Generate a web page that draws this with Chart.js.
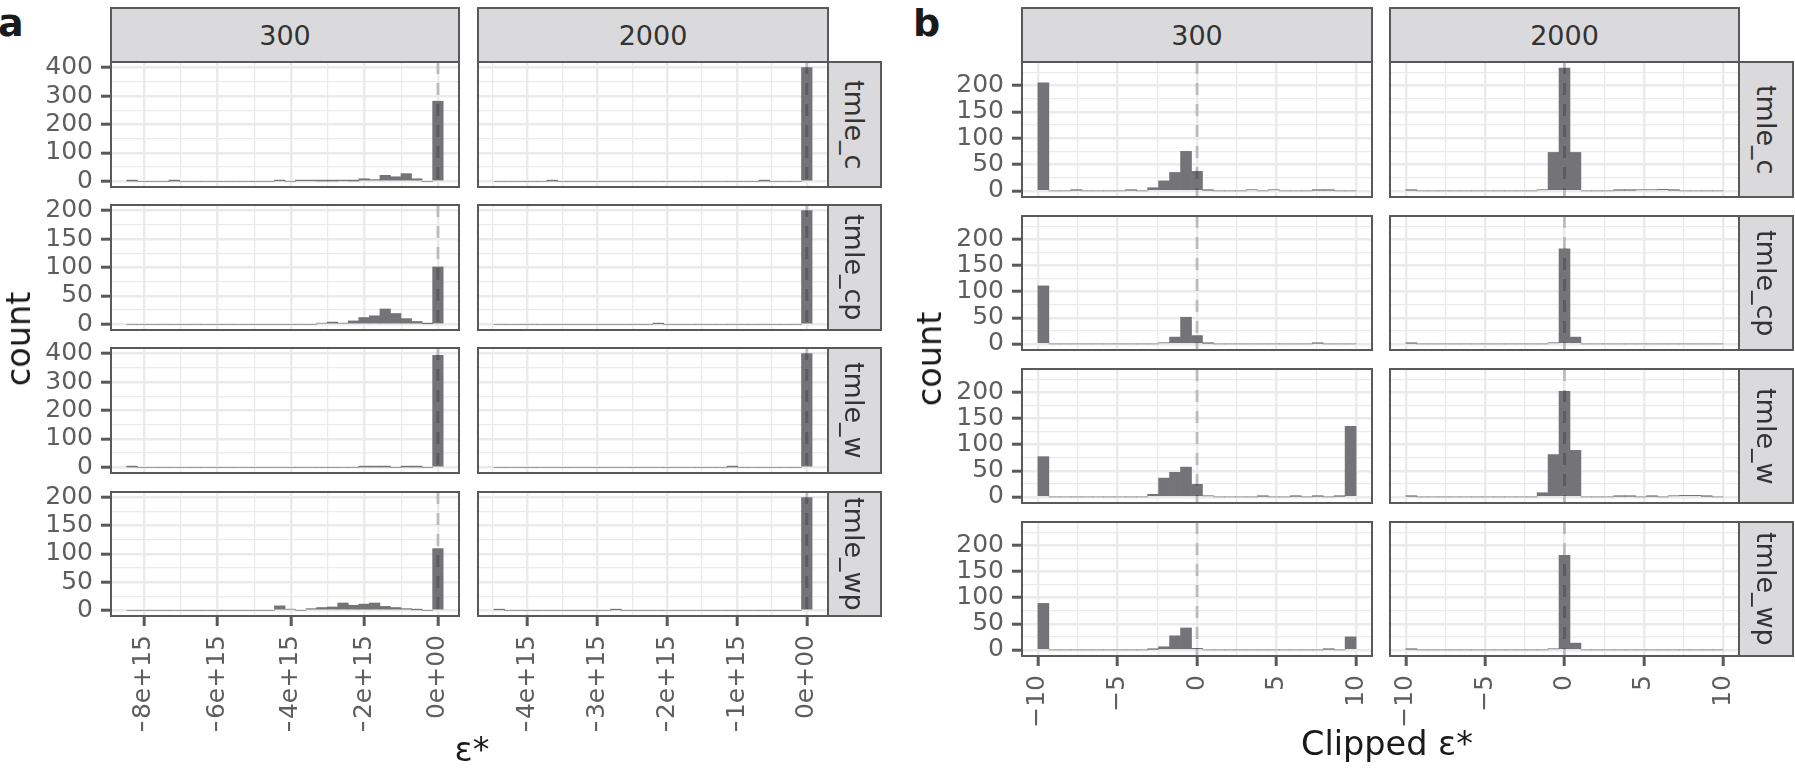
<!DOCTYPE html>
<html>
<head>
<meta charset="utf-8">
<script src="https://cdn.jsdelivr.net/npm/chart.js@4.4.1/dist/chart.umd.min.js"></script>
<style>
  html, body { margin: 0; padding: 0; background: #fff; }
  body { width: 1795px; height: 774px; position: relative; overflow: hidden; font-family: "DejaVu Sans", sans-serif; }
  canvas { position: absolute; }
  .strip { position: absolute; box-sizing: border-box; background: #dadadc; border: 2px solid #595959;
           color: #333; font-size: 27px; display: flex; align-items: center; justify-content: center; }
  .strip.v span { writing-mode: vertical-rl; }
  .lbl { position: absolute; white-space: nowrap; line-height: 34px; color: #1a1a1a; }
  .tag { position: absolute; font: bold 38px "DejaVu Sans", sans-serif; line-height: 38px; color: #1a1a1a; }
</style>
</head>
<body>
<script>
// facets
const sampleSizes = ['300', '2000'];
const estimators = ['tmle_c', 'tmle_cp', 'tmle_w', 'tmle_wp'];

// panel a: raw epsilon*, x in units of 1e15, 30 bins per column, last bin centred on 0
const rawBinWidth300 = 0.287;
const rawBinWidth2000 = 0.152;
const rawC300  = [1,0,0,0,1,0,0,0,0,0, 0,0,0,0,2,0,2,2,1,1, 2,1,9,6,21,16,27,9,0,282];
const rawCp300 = [0,0,0,0,0,0,0,0,0,0, 0,0,0,0,0,0,0,0,2,4, 2,6,12,15,27,19,10,5,1,101];
const rawW300  = [1,0,0,0,0,0,0,0,0,0, 0,0,0,0,0,0,0,0,0,0, 0,0,1,1,1,0,1,1,0,394];
const rawWp300 = [0,0,0,0,0,0,0,0,0,0, 0,0,0,0,8,2,0,3,5,6, 13,9,11,13,7,5,3,1,0,109];
const rawC2000  = [0,0,0,0,0,1,0,0,0,0, 0,0,0,0,0,0,0,0,0,0, 0,0,0,0,0,1,0,0,0,400];
const rawCp2000 = [0,0,0,0,0,0,0,0,0,0, 0,0,0,0,0,1,0,0,0,0, 0,0,0,0,0,0,0,0,0,200];
const rawW2000  = [0,0,0,0,0,0,0,0,0,0, 0,0,0,0,0,0,0,0,0,0, 0,0,1,0,0,0,0,0,0,400];
const rawWp2000 = [1,0,0,0,0,0,0,0,0,0, 0,1,0,0,0,0,0,0,0,0, 0,0,0,0,0,0,0,0,0,199];
const rawTicks300 = [-8, -6, -4, -2, 0];
const rawTickLabels300 = ['\u22128e+15', '\u22126e+15', '\u22124e+15', '\u22122e+15', '0e+00'];
const rawTicks2000 = [-4, -3, -2, -1, 0];
const rawTickLabels2000 = ['\u22124e+15', '\u22123e+15', '\u22122e+15', '\u22121e+15', '0e+00'];

// panel b: clipped epsilon*, 29 bins from -10 to 10
const clipFrom = -10, clipTo = 10;
const clipC300  = [205,0,0,1,0,0,0,0,1,0, 6,19,35,75,37,1,0,0,0,2, 0,2,0,0,0,1,1,0,0];
const clipCp300 = [111,0,0,0,0,0,0,0,0,0, 0,2,13,51,16,1,0,0,0,0, 0,0,0,0,0,1,0,0,0];
const clipW300  = [77,0,0,0,0,0,0,0,0,0, 5,36,47,57,24,2,0,0,0,0, 1,0,0,1,0,1,0,1,135];
const clipWp300 = [89,0,0,0,0,0,0,0,0,0, 1,6,27,42,3,0,0,0,0,0, 0,0,0,0,0,0,1,0,25];
const clipC2000  = [1,0,0,0,0,0,0,0,0,0, 0,0,2,73,233,73,0,0,0,1, 1,2,2,3,1,0,0,0,0];
const clipCp2000 = [1,0,0,0,0,0,0,0,0,0, 0,0,0,2,182,13,0,0,0,0, 0,0,0,0,0,0,0,0,0];
const clipW2000  = [1,0,0,0,0,0,0,0,0,0, 0,0,8,81,202,89,0,0,0,1, 1,0,1,0,2,3,3,1,0];
const clipWp2000 = [1,0,0,0,0,0,0,0,0,0, 0,0,0,2,181,13,0,0,0,0, 0,0,0,0,0,0,0,0,0];
const clipTicks = [-10, -5, 0, 5, 10];
const clipTickLabels = ['\u221210', '\u22125', '0', '5', '10'];

const countTicks400 = [0, 100, 200, 300, 400];
const countTicks200 = [0, 50, 100, 150, 200];
const refValue = 0;

// look
const BAR = '#747478', GRID = '#ebebeb', FRAME = '#595959', TXT = '#5e5e5e';
const FONT = '"DejaVu Sans", sans-serif';
const TICK_SIZE = 25;

// layout (page pixels)
const aCols = [[111, 459], [478, 828]];
const aRows = [[62, 187], [205, 330], [348, 473], [492, 616]];
const bCols = [[1022, 1372], [1390, 1739]];
const bRows = [[62, 197], [216, 350], [369, 503], [522, 656]];

function expand(lo, hi) { const d = (hi - lo) * 0.05; return [lo - d, hi + d]; }

function withMinor(major, lo, hi) {
  const half = (major[1] - major[0]) / 2, out = [];
  for (let j = -2; j <= 2 * (major.length - 1) + 2; j++) {
    const v = major[0] + j * half;
    if (v >= lo - 1e-9 && v <= hi + 1e-9) out.push(v);
  }
  return out;
}
const near = (list, v) => list.findIndex(m => Math.abs(m - v) < 1e-9);

const frame = {
  id: 'frame',
  afterDatasetsDraw(chart) {
    const { ctx, chartArea: a, scales } = chart;
    const px = scales.x.getPixelForValue(refValue);
    ctx.save();
    ctx.beginPath(); ctx.rect(a.left, a.top, a.right - a.left, a.bottom - a.top); ctx.clip();
    ctx.strokeStyle = 'rgba(0,0,0,0.2)'; ctx.lineWidth = 3; ctx.setLineDash([12, 9]);
    ctx.beginPath(); ctx.moveTo(px, a.top); ctx.lineTo(px, a.bottom); ctx.stroke();
    ctx.restore();
  },
  afterDraw(chart) {
    const { ctx, chartArea: a } = chart;
    ctx.save();
    ctx.strokeStyle = FRAME; ctx.lineWidth = 2;
    ctx.strokeRect(a.left, a.top, a.right - a.left, a.bottom - a.top);
    ctx.restore();
  }
};

function panel(o) {
  const padTop = 16, padRight = 2;
  const axW = o.yLabels ? o.axisW : 2;
  const axH = o.xLabels ? 115 : 16;
  const w = o.x1 - o.x0, h = o.y1 - o.y0;
  const cv = document.createElement('canvas');
  cv.width = axW + w + padRight;
  cv.height = padTop + h + axH;
  cv.style.left = (o.x0 - axW) + 'px';
  cv.style.top = (o.y0 - padTop) + 'px';
  document.body.appendChild(cv);

  const xt = withMinor(o.xMajor, o.xr[0], o.xr[1]);
  const yt = withMinor(o.yMajor, o.yr[0], o.yr[1]);
  const noPad = s => { s.paddingLeft = 0; s.paddingRight = 0; s.paddingTop = 0; s.paddingBottom = 0; };
  const gridW = list => c => near(list, c.tick.value) >= 0 ? 2.4 : 1.3;
  const tickC = list => c => near(list, c.tick.value) >= 0 ? FRAME : 'rgba(0,0,0,0)';

  new Chart(cv, {
    type: 'bar',
    data: {
      datasets: [{
        data: o.centers.map((c, i) => ({ x: c, y: o.counts[i] })),
        backgroundColor: BAR, borderWidth: 0,
        barPercentage: 1, categoryPercentage: 1, grouped: false
      }]
    },
    options: {
      responsive: false, animation: false, events: [],
      layout: { padding: { top: padTop, right: padRight, left: 0, bottom: 0 } },
      plugins: { legend: { display: false }, tooltip: { enabled: false } },
      scales: {
        x: {
          type: 'linear', min: o.xr[0], max: o.xr[1], offset: false, bounds: 'data',
          border: { display: false },
          grid: { offset: false, color: GRID, lineWidth: gridW(o.xMajor), drawTicks: !!o.xLabels,
                  tickLength: 10, tickWidth: 3, tickColor: tickC(o.xMajor) },
          ticks: {
            display: !!o.xLabels, autoSkip: false, minRotation: 90, maxRotation: 90, padding: 9,
            color: TXT, font: { family: FONT, size: TICK_SIZE },
            callback: v => { const k = near(o.xMajor, v); return k >= 0 && o.xLabels ? o.xLabels[k] : ''; }
          },
          afterBuildTicks: s => { s.ticks = xt.map(v => ({ value: v })); },
          afterFit: s => { s.height = axH; noPad(s); }
        },
        y: {
          type: 'linear', min: o.yr[0], max: o.yr[1], bounds: 'data',
          border: { display: false },
          grid: { color: GRID, lineWidth: gridW(o.yMajor), drawTicks: !!o.yLabels,
                  tickLength: 10, tickWidth: 3, tickColor: tickC(o.yMajor) },
          ticks: {
            display: !!o.yLabels, autoSkip: false, padding: 8,
            color: TXT, font: { family: FONT, size: TICK_SIZE },
            callback: v => { const k = near(o.yMajor, v); return k >= 0 ? String(o.yMajor[k]) : ''; }
          },
          afterBuildTicks: s => { s.ticks = yt.map(v => ({ value: v })); },
          afterFit: s => { s.width = axW; noPad(s); }
        }
      }
    },
    plugins: [frame]
  });
}

function div(cls, html, css) {
  const d = document.createElement('div');
  d.className = cls; d.innerHTML = html;
  Object.assign(d.style, css);
  document.body.appendChild(d);
  return d;
}

// ---- panel a ----
const rawData = [
  [rawC300, rawC2000], [rawCp300, rawCp2000], [rawW300, rawW2000], [rawWp300, rawWp2000]
];
const rawWidths = [rawBinWidth300, rawBinWidth2000];
const rawMajor = [rawTicks300, rawTicks2000];
const rawLabels = [rawTickLabels300, rawTickLabels2000];

rawData.forEach((row, r) => {
  const top = Math.max(...row[0], ...row[1]);
  const yr = expand(0, top);
  const yMajor = top > 300 ? countTicks400 : countTicks200;
  row.forEach((counts, c) => {
    const bw = rawWidths[c], n = counts.length;
    const centers = counts.map((_, i) => (i - (n - 1)) * bw);
    const xr = expand(centers[0] - bw / 2, centers[n - 1] + bw / 2);
    panel({
      x0: aCols[c][0], x1: aCols[c][1], y0: aRows[r][0], y1: aRows[r][1], axisW: aCols[0][0],
      counts, centers, xr, yr, xMajor: rawMajor[c], yMajor,
      xLabels: r === 3 ? rawLabels[c] : null, yLabels: c === 0
    });
  });
});

// ---- panel b ----
const clipData = [
  [clipC300, clipC2000], [clipCp300, clipCp2000], [clipW300, clipW2000], [clipWp300, clipWp2000]
];
const clipTop = Math.max(...clipData.flat(2));
clipData.forEach((row, r) => {
  row.forEach((counts, c) => {
    const n = counts.length, bw = (clipTo - clipFrom) / n;
    const centers = counts.map((_, i) => clipFrom + (i + 0.5) * bw);
    panel({
      x0: bCols[c][0], x1: bCols[c][1], y0: bRows[r][0], y1: bRows[r][1], axisW: bCols[0][0] - 900,
      counts, centers, xr: expand(clipFrom, clipTo), yr: expand(0, clipTop),
      xMajor: clipTicks, yMajor: countTicks200,
      xLabels: r === 3 ? clipTickLabels : null, yLabels: c === 0
    });
  });
});

// ---- strips ----
function strips(cols, rows, rightX0, rightX1) {
  cols.forEach((col, c) => div('strip', sampleSizes[c],
    { left: (col[0] - 1) + 'px', top: '7px', width: (col[1] - col[0] + 2) + 'px', height: (rows[0][0] - 7 + 1) + 'px' }));
  rows.forEach((row, r) => div('strip v', '<span>' + estimators[r] + '</span>',
    { left: (rightX0 - 1) + 'px', top: (row[0] - 1) + 'px', width: (rightX1 - rightX0 + 1) + 'px', height: (row[1] - row[0] + 2) + 'px' }));
}
strips(aCols, aRows, 828, 882);
strips(bCols, bRows, 1739, 1794);

// ---- titles ----
div('tag', 'a', { left: '-2px', top: '4px' });
div('tag', 'b', { left: '913px', top: '4px' });
div('lbl', 'count', { left: '19px', top: '339px', fontSize: '33.5px', transform: 'translate(-50%,-50%) rotate(-90deg)' });
div('lbl', 'count', { left: '930px', top: '359px', fontSize: '33.5px', transform: 'translate(-50%,-50%) rotate(-90deg)' });
div('lbl', '\u03b5*', { left: '472px', top: '733px', fontSize: '33.5px', transform: 'translateX(-50%)' });
div('lbl', 'Clipped \u03b5*', { left: '1387px', top: '727px', fontSize: '33.5px', transform: 'translateX(-50%)' });
</script>
</body>
</html>
